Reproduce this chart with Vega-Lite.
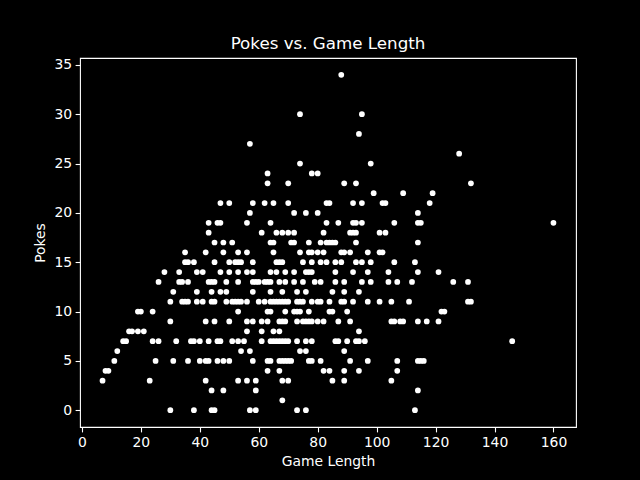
{
  "$schema": "https://vega.github.io/schema/vega-lite/v6.json",
  "width": 496,
  "height": 369,
  "autosize": {"type": "none"},
  "padding": {"left": 80, "top": 58, "right": 64, "bottom": 53},
  "background": "black",
  "title": {"text": "Pokes vs. Game Length", "color": "white", "font": "DejaVu Sans", "fontSize": 16.7, "fontWeight": "normal", "anchor": "middle", "baseline": "alphabetic", "offset": -8},
  "config": {
    "view": {"stroke": "white", "strokeWidth": 1.1},
    "axis": {"grid": false, "domain": false, "tickColor": "white", "tickSize": 4.9, "tickWidth": 1.1, "labelColor": "white", "labelFont": "DejaVu Sans", "labelFontSize": 13.9, "labelPadding": 3.5, "titleColor": "white", "titleFont": "DejaVu Sans", "titleFontSize": 13.9, "titleFontWeight": "normal"}
  },
  "data": {"values": [
    {"length":30,"pokes":0},{"length":38,"pokes":0},{"length":44,"pokes":0},{"length":45,"pokes":0},{"length":57,"pokes":0},{"length":59,"pokes":0},{"length":73,"pokes":0},{"length":76,"pokes":0},{"length":113,"pokes":0},
    {"length":68,"pokes":1},
    {"length":44,"pokes":2},{"length":48,"pokes":2},{"length":59,"pokes":2},{"length":114,"pokes":2},
    {"length":7,"pokes":3},{"length":23,"pokes":3},{"length":42,"pokes":3},{"length":53,"pokes":3},{"length":56,"pokes":3},{"length":59,"pokes":3},{"length":68,"pokes":3},{"length":70,"pokes":3},{"length":85,"pokes":3},{"length":89,"pokes":3},{"length":105,"pokes":3},
    {"length":8,"pokes":4},{"length":9,"pokes":4},{"length":63,"pokes":4},{"length":67,"pokes":4},{"length":82,"pokes":4},{"length":84,"pokes":4},{"length":89,"pokes":4},{"length":94,"pokes":4},{"length":107,"pokes":4},
    {"length":11,"pokes":5},{"length":25,"pokes":5},{"length":31,"pokes":5},{"length":36,"pokes":5},{"length":40,"pokes":5},{"length":42,"pokes":5},{"length":43,"pokes":5},{"length":46,"pokes":5},{"length":48,"pokes":5},{"length":50,"pokes":5},{"length":58,"pokes":5},{"length":63,"pokes":5},{"length":64,"pokes":5},{"length":67,"pokes":5},{"length":68,"pokes":5},{"length":69,"pokes":5},{"length":70,"pokes":5},{"length":71,"pokes":5},{"length":77,"pokes":5},{"length":78,"pokes":5},{"length":81,"pokes":5},{"length":91,"pokes":5},{"length":97,"pokes":5},{"length":107,"pokes":5},{"length":114,"pokes":5},{"length":115,"pokes":5},{"length":116,"pokes":5},
    {"length":12,"pokes":6},{"length":54,"pokes":6},{"length":57,"pokes":6},{"length":74,"pokes":6},{"length":76,"pokes":6},{"length":89,"pokes":6},
    {"length":14,"pokes":7},{"length":15,"pokes":7},{"length":24,"pokes":7},{"length":26,"pokes":7},{"length":32,"pokes":7},{"length":37,"pokes":7},{"length":38,"pokes":7},{"length":40,"pokes":7},{"length":43,"pokes":7},{"length":46,"pokes":7},{"length":47,"pokes":7},{"length":51,"pokes":7},{"length":53,"pokes":7},{"length":55,"pokes":7},{"length":61,"pokes":7},{"length":64,"pokes":7},{"length":65,"pokes":7},{"length":66,"pokes":7},{"length":67,"pokes":7},{"length":68,"pokes":7},{"length":69,"pokes":7},{"length":70,"pokes":7},{"length":73,"pokes":7},{"length":76,"pokes":7},{"length":78,"pokes":7},{"length":86,"pokes":7},{"length":87,"pokes":7},{"length":90,"pokes":7},{"length":93,"pokes":7},{"length":94,"pokes":7},{"length":96,"pokes":7},{"length":146,"pokes":7},
    {"length":16,"pokes":8},{"length":17,"pokes":8},{"length":19,"pokes":8},{"length":21,"pokes":8},{"length":56,"pokes":8},{"length":61,"pokes":8},{"length":65,"pokes":8},{"length":67,"pokes":8},{"length":94,"pokes":8},
    {"length":30,"pokes":9},{"length":42,"pokes":9},{"length":45,"pokes":9},{"length":50,"pokes":9},{"length":56,"pokes":9},{"length":58,"pokes":9},{"length":61,"pokes":9},{"length":63,"pokes":9},{"length":67,"pokes":9},{"length":68,"pokes":9},{"length":69,"pokes":9},{"length":73,"pokes":9},{"length":75,"pokes":9},{"length":76,"pokes":9},{"length":77,"pokes":9},{"length":78,"pokes":9},{"length":80,"pokes":9},{"length":82,"pokes":9},{"length":87,"pokes":9},{"length":91,"pokes":9},{"length":105,"pokes":9},{"length":106,"pokes":9},{"length":108,"pokes":9},{"length":109,"pokes":9},{"length":114,"pokes":9},{"length":117,"pokes":9},{"length":121,"pokes":9},
    {"length":19,"pokes":10},{"length":20,"pokes":10},{"length":24,"pokes":10},{"length":53,"pokes":10},{"length":63,"pokes":10},{"length":64,"pokes":10},{"length":69,"pokes":10},{"length":72,"pokes":10},{"length":73,"pokes":10},{"length":74,"pokes":10},{"length":77,"pokes":10},{"length":84,"pokes":10},{"length":85,"pokes":10},{"length":90,"pokes":10},{"length":122,"pokes":10},{"length":123,"pokes":10},
    {"length":30,"pokes":11},{"length":34,"pokes":11},{"length":35,"pokes":11},{"length":36,"pokes":11},{"length":39,"pokes":11},{"length":41,"pokes":11},{"length":44,"pokes":11},{"length":45,"pokes":11},{"length":49,"pokes":11},{"length":51,"pokes":11},{"length":52,"pokes":11},{"length":53,"pokes":11},{"length":54,"pokes":11},{"length":56,"pokes":11},{"length":60,"pokes":11},{"length":62,"pokes":11},{"length":64,"pokes":11},{"length":65,"pokes":11},{"length":66,"pokes":11},{"length":67,"pokes":11},{"length":68,"pokes":11},{"length":69,"pokes":11},{"length":70,"pokes":11},{"length":73,"pokes":11},{"length":74,"pokes":11},{"length":75,"pokes":11},{"length":78,"pokes":11},{"length":80,"pokes":11},{"length":81,"pokes":11},{"length":84,"pokes":11},{"length":88,"pokes":11},{"length":89,"pokes":11},{"length":92,"pokes":11},{"length":97,"pokes":11},{"length":101,"pokes":11},{"length":105,"pokes":11},{"length":111,"pokes":11},{"length":131,"pokes":11},{"length":132,"pokes":11},
    {"length":31,"pokes":12},{"length":39,"pokes":12},{"length":44,"pokes":12},{"length":47,"pokes":12},{"length":49,"pokes":12},{"length":58,"pokes":12},{"length":64,"pokes":12},{"length":68,"pokes":12},{"length":73,"pokes":12},{"length":76,"pokes":12},{"length":85,"pokes":12},{"length":89,"pokes":12},{"length":94,"pokes":12},
    {"length":26,"pokes":13},{"length":33,"pokes":13},{"length":34,"pokes":13},{"length":36,"pokes":13},{"length":43,"pokes":13},{"length":44,"pokes":13},{"length":45,"pokes":13},{"length":49,"pokes":13},{"length":53,"pokes":13},{"length":58,"pokes":13},{"length":59,"pokes":13},{"length":60,"pokes":13},{"length":62,"pokes":13},{"length":63,"pokes":13},{"length":64,"pokes":13},{"length":67,"pokes":13},{"length":69,"pokes":13},{"length":72,"pokes":13},{"length":75,"pokes":13},{"length":79,"pokes":13},{"length":81,"pokes":13},{"length":86,"pokes":13},{"length":89,"pokes":13},{"length":95,"pokes":13},{"length":98,"pokes":13},{"length":104,"pokes":13},{"length":107,"pokes":13},{"length":112,"pokes":13},{"length":126,"pokes":13},{"length":131,"pokes":13},
    {"length":28,"pokes":14},{"length":33,"pokes":14},{"length":39,"pokes":14},{"length":41,"pokes":14},{"length":47,"pokes":14},{"length":50,"pokes":14},{"length":53,"pokes":14},{"length":56,"pokes":14},{"length":58,"pokes":14},{"length":64,"pokes":14},{"length":66,"pokes":14},{"length":69,"pokes":14},{"length":72,"pokes":14},{"length":76,"pokes":14},{"length":77,"pokes":14},{"length":78,"pokes":14},{"length":86,"pokes":14},{"length":92,"pokes":14},{"length":97,"pokes":14},{"length":104,"pokes":14},{"length":114,"pokes":14},{"length":121,"pokes":14},
    {"length":35,"pokes":15},{"length":36,"pokes":15},{"length":38,"pokes":15},{"length":45,"pokes":15},{"length":50,"pokes":15},{"length":52,"pokes":15},{"length":53,"pokes":15},{"length":54,"pokes":15},{"length":58,"pokes":15},{"length":66,"pokes":15},{"length":67,"pokes":15},{"length":68,"pokes":15},{"length":75,"pokes":15},{"length":78,"pokes":15},{"length":81,"pokes":15},{"length":83,"pokes":15},{"length":86,"pokes":15},{"length":88,"pokes":15},{"length":93,"pokes":15},{"length":95,"pokes":15},{"length":98,"pokes":15},{"length":106,"pokes":15},{"length":113,"pokes":15},
    {"length":35,"pokes":16},{"length":42,"pokes":16},{"length":48,"pokes":16},{"length":53,"pokes":16},{"length":56,"pokes":16},{"length":65,"pokes":16},{"length":74,"pokes":16},{"length":77,"pokes":16},{"length":78,"pokes":16},{"length":80,"pokes":16},{"length":82,"pokes":16},{"length":88,"pokes":16},{"length":89,"pokes":16},{"length":91,"pokes":16},{"length":97,"pokes":16},{"length":101,"pokes":16},{"length":102,"pokes":16},
    {"length":45,"pokes":17},{"length":48,"pokes":17},{"length":51,"pokes":17},{"length":64,"pokes":17},{"length":65,"pokes":17},{"length":71,"pokes":17},{"length":72,"pokes":17},{"length":77,"pokes":17},{"length":81,"pokes":17},{"length":83,"pokes":17},{"length":84,"pokes":17},{"length":85,"pokes":17},{"length":86,"pokes":17},{"length":93,"pokes":17},{"length":114,"pokes":17},
    {"length":43,"pokes":18},{"length":61,"pokes":18},{"length":66,"pokes":18},{"length":68,"pokes":18},{"length":70,"pokes":18},{"length":72,"pokes":18},{"length":82,"pokes":18},{"length":91,"pokes":18},{"length":92,"pokes":18},{"length":93,"pokes":18},{"length":101,"pokes":18},{"length":103,"pokes":18},
    {"length":43,"pokes":19},{"length":46,"pokes":19},{"length":47,"pokes":19},{"length":56,"pokes":19},{"length":64,"pokes":19},{"length":83,"pokes":19},{"length":87,"pokes":19},{"length":92,"pokes":19},{"length":93,"pokes":19},{"length":95,"pokes":19},{"length":106,"pokes":19},{"length":114,"pokes":19},{"length":115,"pokes":19},{"length":160,"pokes":19},
    {"length":57,"pokes":20},{"length":72,"pokes":20},{"length":76,"pokes":20},{"length":80,"pokes":20},{"length":114,"pokes":20},
    {"length":47,"pokes":21},{"length":50,"pokes":21},{"length":58,"pokes":21},{"length":62,"pokes":21},{"length":65,"pokes":21},{"length":70,"pokes":21},{"length":83,"pokes":21},{"length":84,"pokes":21},{"length":92,"pokes":21},{"length":95,"pokes":21},{"length":102,"pokes":21},{"length":103,"pokes":21},{"length":118,"pokes":21},
    {"length":99,"pokes":22},{"length":109,"pokes":22},{"length":119,"pokes":22},
    {"length":63,"pokes":23},{"length":70,"pokes":23},{"length":89,"pokes":23},{"length":93,"pokes":23},{"length":132,"pokes":23},
    {"length":63,"pokes":24},{"length":78,"pokes":24},{"length":80,"pokes":24},
    {"length":74,"pokes":25},{"length":98,"pokes":25},
    {"length":128,"pokes":26},
    {"length":57,"pokes":27},
    {"length":94,"pokes":28},
    {"length":74,"pokes":30},{"length":95,"pokes":30},
    {"length":88,"pokes":34}
  ]},
  "mark": {"type": "circle", "color": "white", "opacity": 1, "size": 33},
  "encoding": {
    "x": {"field": "length", "type": "quantitative", "title": "Game Length", "scale": {"domain": [-0.65, 167.65], "nice": false, "zero": false}, "axis": {"values": [0, 20, 40, 60, 80, 100, 120, 140, 160], "titlePadding": 5}},
    "y": {"field": "pokes", "type": "quantitative", "title": "Pokes", "scale": {"domain": [-1.7, 35.7], "nice": false, "zero": false}, "axis": {"values": [0, 5, 10, 15, 20, 25, 30, 35], "titlePadding": 6}}
  }
}
